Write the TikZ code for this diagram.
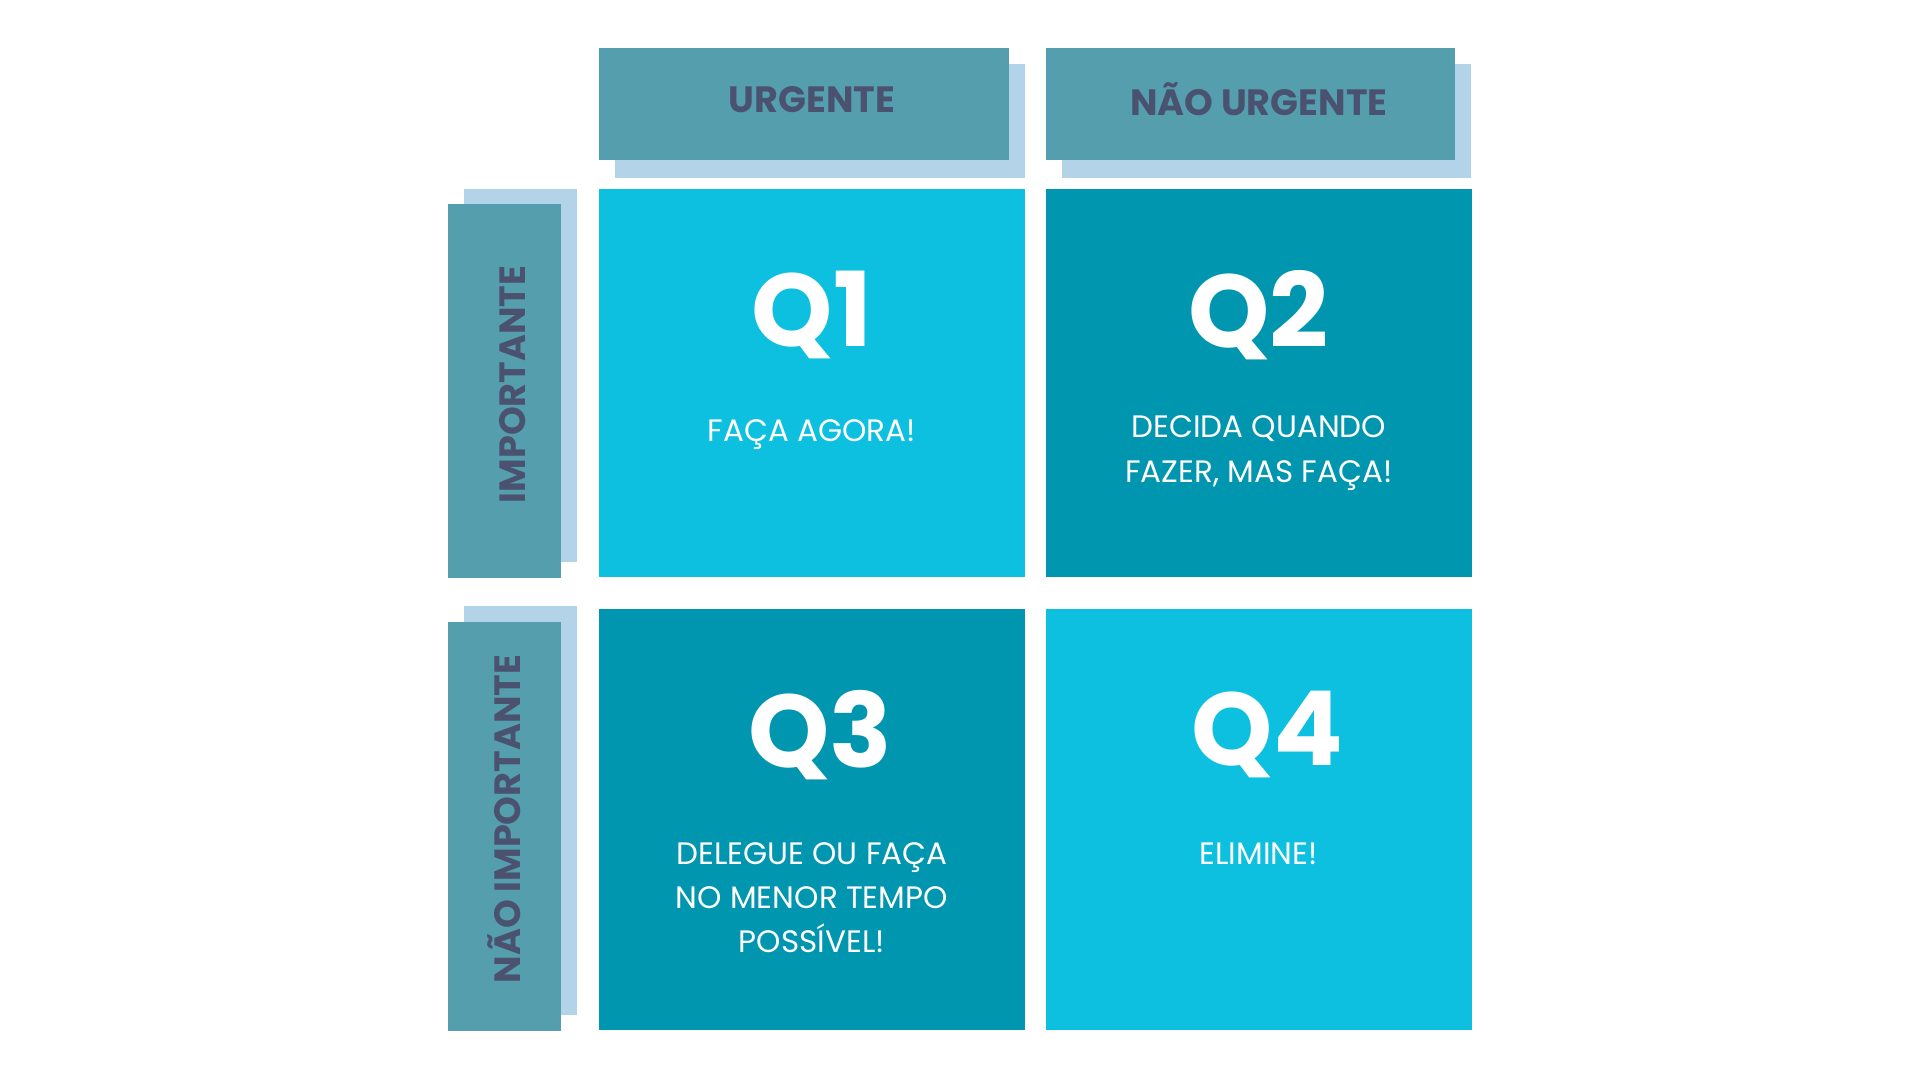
\documentclass[tikz,border=0pt]{standalone}
\usepackage{fontspec}
\setmainfont{Poppins}
\definecolor{hdr}{HTML}{559EAE}
\definecolor{shd}{HTML}{B3D4E8}
\definecolor{txt}{HTML}{4A5270}
\definecolor{lq}{HTML}{0DC0E0}
\definecolor{dq}{HTML}{0096B0}
\tikzset{
 hdrbox/.style={fill=hdr,draw=none},
 shbox/.style={fill=shd,draw=none},
 hdrtxt/.style={text=txt,font=\fontsize{8.5}{10}\selectfont\bfseries},
 qtxt/.style={text=white,font=\fontsize{24}{26}\selectfont\bfseries},
 btxt/.style={text=white,align=center,font=\fontsize{7.2}{10.3}\selectfont}
}
\begin{document}
\begin{tikzpicture}[x=0.01cm,y=-0.01cm]
\useasboundingbox[fill=white] (0,0) rectangle (1568,882);
% headers
\fill[shbox] (502,52) rectangle (837,145);
\fill[hdrbox] (489,39) rectangle (824,131);
\node[hdrtxt] (hu) at (663,81) {URGENTE};
\fill[shbox] (867,52) rectangle (1201,145);
\fill[hdrbox] (854,39) rectangle (1188,131);
\node[hdrtxt] (hn) at (1028,81) {NÃO URGENTE};
% side headers
\fill[shbox] (379,154) rectangle (471,459);
\fill[hdrbox] (366,167) rectangle (458,472);
\node[hdrtxt,rotate=90] (vi) at (419,314) {IMPORTANTE};
\fill[shbox] (379,495) rectangle (471,829);
\fill[hdrbox] (366,508) rectangle (458,842);
\node[hdrtxt,rotate=90] (vn) at (412,669) {NÃO IMPORTANTE};
% quadrants
\fill[lq] (489,154) rectangle (837,471);
\fill[dq] (854,154) rectangle (1202,471);
\fill[dq] (489,497) rectangle (837,841);
\fill[lq] (854,497) rectangle (1202,841);
\node[qtxt] (q1) at (663,257) {Q1};
\node[btxt] (t1) at (663,355) {FAÇA AGORA!};
\node[qtxt] (q2) at (1028,257) {Q2};
\node[btxt] (t2) at (1028,370) {DECIDA QUANDO\\FAZER, MAS FAÇA!};
\node[qtxt] (q3) at (670,600) {Q3};
\node[btxt] (t3) at (663,733) {DELEGUE OU FAÇA\\NO MENOR TEMPO\\POSSÍVEL!};
\node[qtxt] (q4) at (1035,600) {Q4};
\node[btxt] (t4) at (1028,697) {ELIMINE!};
\end{tikzpicture}
\end{document}
